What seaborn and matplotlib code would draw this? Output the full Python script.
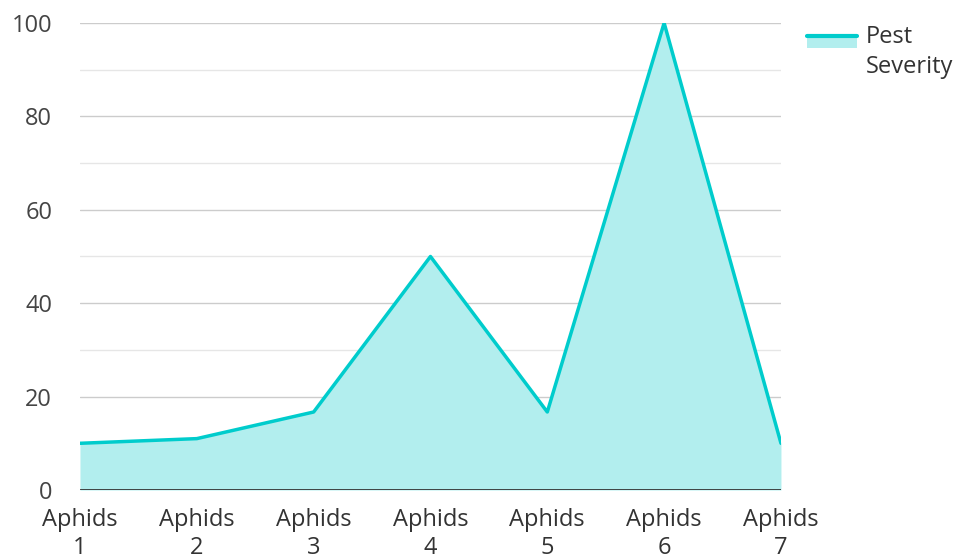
import pandas as pd
import matplotlib.pyplot as plt
import seaborn as sns
from matplotlib.patches import Rectangle
from matplotlib.lines import Line2D

# Chart data
categories = ['Aphids\n1', 'Aphids\n2', 'Aphids\n3', 'Aphids\n4', 'Aphids\n5', 'Aphids\n6', 'Aphids\n7']
severity = [10, 11, 16.7, 50, 16.7, 100, 10]
series_name = 'Pest\nSeverity'

df = pd.DataFrame({'pos': range(len(categories)), 'severity': severity})

sns.set_style('white')
plt.rcParams['font.family'] = ['Open Sans', 'DejaVu Sans']

line_color = '#00CCCC'
fill_color = '#B2EEEE'


class AreaHandler:
    # legend key: filled box with the line along its top edge, level with first text line
    def legend_artist(self, legend, orig_handle, fontsize, handlebox):
        x0, y0 = handlebox.xdescent, handlebox.ydescent
        w = handlebox.width
        shift = 0.15 * fontsize
        top = y0 + shift + 0.9 * fontsize
        box = Rectangle((x0, top - 0.5 * fontsize), w, 0.5 * fontsize,
                        facecolor=fill_color, edgecolor='none', transform=handlebox.get_transform())
        ln = Line2D([x0, x0 + w], [top, top], color=line_color, lw=3,
                    transform=handlebox.get_transform())
        handlebox.add_artist(box)
        handlebox.add_artist(ln)
        return box


fig = plt.figure(figsize=(9.6, 5.6), dpi=100)
ax = fig.add_axes([0.0833, 0.125, 0.7302, 0.834])

# Grid lines: darker every 20, lighter in between
for v in range(10, 101, 10):
    ax.axhline(v, color='#cccccc' if v % 20 == 0 else '#e6e6e6', lw=1, zorder=0)

ax.fill_between(df['pos'], df['severity'], 0, color=fill_color, lw=0, zorder=1)
sns.lineplot(data=df, x='pos', y='severity', color=line_color, lw=2.5, ax=ax, zorder=2)
ax.axhline(0, color='#333333', lw=2, zorder=3)

ax.set_xlim(0, len(categories) - 1)
ax.set_ylim(0, 100)
ax.set_xticks(range(len(categories)))
ax.set_xticklabels(categories, fontsize=17, color='#333333', linespacing=1.2)
ax.set_yticks(range(0, 101, 20))
ax.tick_params(axis='y', labelsize=17, labelcolor='#444444', length=0, pad=20)
ax.tick_params(axis='x', length=0, pad=13)
ax.set_xlabel('')
ax.set_ylabel('')
for s in ax.spines.values():
    s.set_visible(False)

leg = ax.legend([object()], [series_name], handler_map={object: AreaHandler()},
                loc='upper left', bbox_to_anchor=(1.007, 1.041), frameon=False,
                fontsize=17, handlelength=2.1, handletextpad=0.4, labelcolor='#333333')
for t in leg.get_texts():
    t.set_linespacing(1.35)

plt.savefig('out.png', dpi=100)
plt.close()
